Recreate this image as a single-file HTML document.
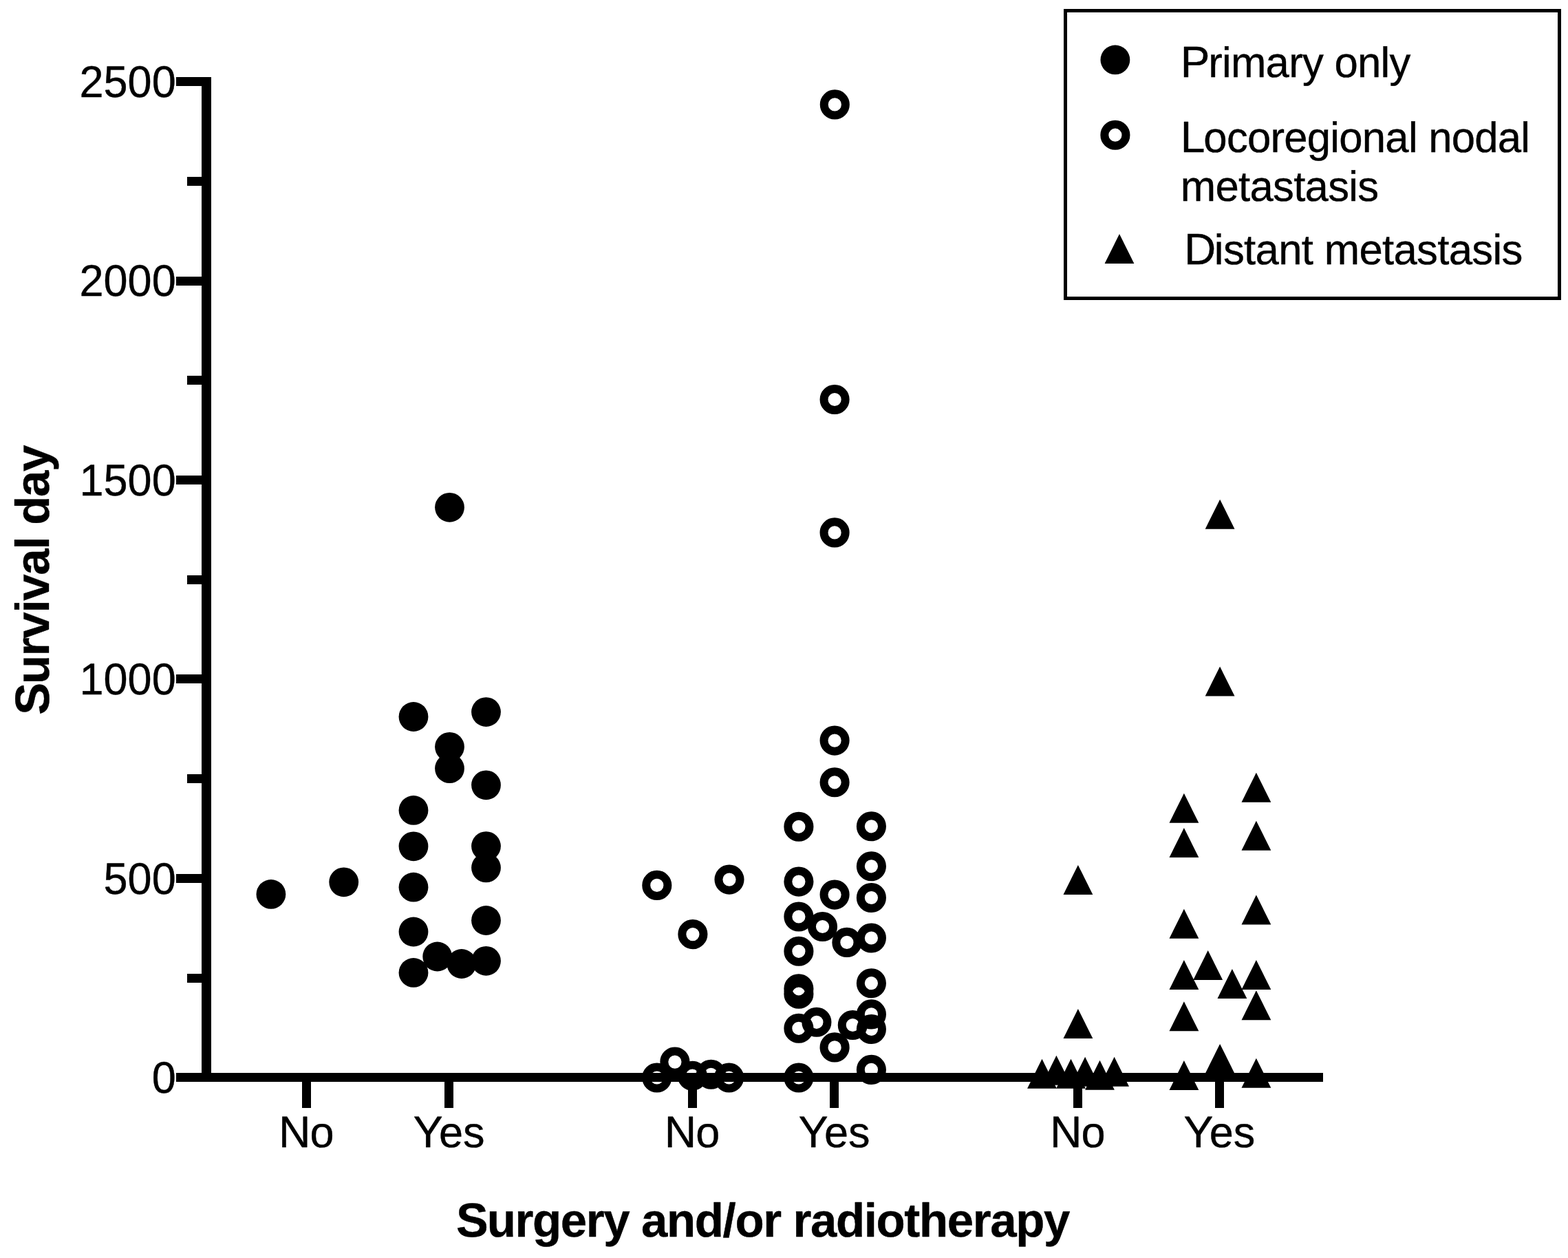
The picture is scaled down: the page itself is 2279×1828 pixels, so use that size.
<!DOCTYPE html>
<html lang="en">
<head>
<meta charset="utf-8">
<title>Survival day by surgery and/or radiotherapy</title>
<style>
html,body{margin:0;padding:0;background:#fff;}
body{width:2279px;height:1828px;overflow:hidden;}
svg{display:block;}
text{font-family:"Liberation Sans",sans-serif;fill:#000;font-kerning:none;font-variant-ligatures:none;white-space:pre;text-rendering:geometricPrecision;stroke:#000;stroke-width:0.4px;stroke-linejoin:round;}
.tk{font-size:63px;text-anchor:end;}
.xl{font-size:63px;text-anchor:middle;}
.lg{font-size:61.7px;}
.ttl{font-weight:bold;}
</style>
</head>
<body>
<svg width="2279" height="1828" viewBox="0 0 2279 1828">
<rect x="0" y="0" width="2279" height="1828" fill="#fff"/>
<g id="axes" fill="#000" shape-rendering="crispEdges">
<rect x="293" y="112" width="14" height="1460"/>
<rect x="256" y="1559" width="1667" height="13"/>
<rect x="272" y="1415" width="22" height="13"/>
<rect x="256" y="1270" width="38" height="13"/>
<rect x="272" y="1125" width="22" height="13"/>
<rect x="256" y="980" width="38" height="13"/>
<rect x="272" y="836" width="22" height="13"/>
<rect x="256" y="691" width="38" height="13"/>
<rect x="272" y="546" width="22" height="13"/>
<rect x="256" y="402" width="38" height="13"/>
<rect x="272" y="257" width="22" height="13"/>
<rect x="256" y="112" width="38" height="13"/>
<rect x="439" y="1571" width="13" height="39"/>
<rect x="646" y="1571" width="13" height="39"/>
<rect x="1000" y="1571" width="13" height="39"/>
<rect x="1206" y="1571" width="13" height="39"/>
<rect x="1560" y="1571" width="13" height="39"/>
<rect x="1766" y="1571" width="13" height="39"/>
</g>
<g id="ylabels" class="tk">
<text transform="translate(255.68 1588) scale(1 1.025)">0</text>
<text transform="translate(255.68 1299) scale(1 1.025)">500</text>
<text transform="translate(255.68 1009) scale(1 1.025)">1000</text>
<text transform="translate(255.68 720) scale(1 1.025)">1500</text>
<text transform="translate(255.68 430) scale(1 1.025)">2000</text>
<text transform="translate(255.68 141) scale(1 1.025)">2500</text>
</g>
<g id="xlabels" class="xl">
<text x="445.31" y="1667"><tspan font-size="64.3" letter-spacing="-0.94">N</tspan>o</text>
<text x="652.59" y="1667"><tspan font-size="64.3" letter-spacing="-5.65">Y</tspan>es</text>
<text x="1006.11" y="1667"><tspan font-size="64.3" letter-spacing="-0.94">N</tspan>o</text>
<text x="1212.69" y="1667"><tspan font-size="64.3" letter-spacing="-5.65">Y</tspan>es</text>
<text x="1566.21" y="1667"><tspan font-size="64.3" letter-spacing="-0.94">N</tspan>o</text>
<text x="1772.49" y="1667"><tspan font-size="64.3" letter-spacing="-5.65">Y</tspan>es</text>
</g>
<text id="xtitle" class="ttl" font-size="69" letter-spacing="-1.37" x="663.08" y="1796.6"><tspan font-size="70" letter-spacing="-2.04">S</tspan>urgery and/or radiotherapy</text>
<text id="ytitle" class="ttl" font-size="69" letter-spacing="-1.3" transform="translate(71 1038.8) rotate(-90)"><tspan font-size="70" letter-spacing="-1.97">S</tspan>urvival day</text>
<g id="primary" fill="#000">
<circle cx="393.9" cy="1299.4" r="21.4"/>
<circle cx="499.7" cy="1281.8" r="21.4"/>
<circle cx="601" cy="1041.5" r="21.4"/>
<circle cx="601" cy="1177.4" r="21.4"/>
<circle cx="601" cy="1229.8" r="21.4"/>
<circle cx="601" cy="1289.2" r="21.4"/>
<circle cx="601" cy="1354" r="21.4"/>
<circle cx="601" cy="1413.4" r="21.4"/>
<circle cx="653.5" cy="737.3" r="21.4"/>
<circle cx="653.5" cy="1085.3" r="21.4"/>
<circle cx="653.5" cy="1116.7" r="21.4"/>
<circle cx="706.5" cy="1034.6" r="21.4"/>
<circle cx="706.5" cy="1140.8" r="21.4"/>
<circle cx="706.5" cy="1229.6" r="21.4"/>
<circle cx="706.5" cy="1260.9" r="21.4"/>
<circle cx="706.5" cy="1337.5" r="21.4"/>
<circle cx="706.5" cy="1396.3" r="21.4"/>
<circle cx="635.7" cy="1390" r="21.4"/>
<circle cx="670.9" cy="1400.5" r="21.4"/>
</g>
<g id="nodal" fill="none" stroke="#000" stroke-width="11.95">
<circle cx="954.8" cy="1286.4" r="15.58"/>
<circle cx="1060" cy="1278.1" r="15.58"/>
<circle cx="1006.9" cy="1357.6" r="15.58"/>
<circle cx="954.8" cy="1566" r="15.58"/>
<circle cx="980.9" cy="1543.1" r="15.58"/>
<circle cx="1006.3" cy="1563.2" r="15.58"/>
<circle cx="1033.4" cy="1561.3" r="15.58"/>
<circle cx="1059.6" cy="1566" r="15.58"/>
<circle cx="1213.3" cy="151.9" r="15.58"/>
<circle cx="1213.1" cy="580.5" r="15.58"/>
<circle cx="1213.1" cy="773.9" r="15.58"/>
<circle cx="1213.1" cy="1076.1" r="15.58"/>
<circle cx="1213.1" cy="1136.8" r="15.58"/>
<circle cx="1160.9" cy="1201.3" r="15.58"/>
<circle cx="1266.4" cy="1200.8" r="15.58"/>
<circle cx="1266.4" cy="1258.8" r="15.58"/>
<circle cx="1160.9" cy="1281.1" r="15.58"/>
<circle cx="1213.1" cy="1300.1" r="15.58"/>
<circle cx="1266.4" cy="1304.5" r="15.58"/>
<circle cx="1160.9" cy="1332" r="15.58"/>
<circle cx="1195.5" cy="1346.5" r="15.58"/>
<circle cx="1230.9" cy="1369.4" r="15.58"/>
<circle cx="1266.4" cy="1363" r="15.58"/>
<circle cx="1160.9" cy="1382.3" r="15.58"/>
<circle cx="1266.4" cy="1428.7" r="15.58"/>
<circle cx="1160.9" cy="1436.8" r="15.58"/>
<circle cx="1160.9" cy="1444.2" r="15.58"/>
<circle cx="1266.4" cy="1473.9" r="15.58"/>
<circle cx="1266.4" cy="1495.5" r="15.58"/>
<circle cx="1186.9" cy="1485.3" r="15.58"/>
<circle cx="1239.3" cy="1489.5" r="15.58"/>
<circle cx="1160.9" cy="1494.3" r="15.58"/>
<circle cx="1213.1" cy="1521.9" r="15.58"/>
<circle cx="1266.4" cy="1554.4" r="15.58"/>
<circle cx="1160.9" cy="1566" r="15.58"/>
</g>
<g id="distant" fill="#000">
<polygon points="1566.9,1256.9 1588.3,1299.9 1545.5,1299.9"/>
<polygon points="1566.9,1466.1 1588.3,1509.1 1545.5,1509.1"/>
<polygon points="1514.5,1538.8 1535.9,1581.8 1493.1,1581.8"/>
<polygon points="1535.4,1533.8 1556.8,1576.8 1514,1576.8"/>
<polygon points="1556.5,1538.8 1577.9,1581.8 1535.1,1581.8"/>
<polygon points="1577.1,1535.8 1598.5,1578.8 1555.7,1578.8"/>
<polygon points="1598.5,1540.8 1619.9,1583.8 1577.1,1583.8"/>
<polygon points="1619.6,1535.8 1641,1578.8 1598.2,1578.8"/>
<polygon points="1773.1,725.7 1794.5,768.7 1751.7,768.7"/>
<polygon points="1773.1,968.6 1794.5,1011.6 1751.7,1011.6"/>
<polygon points="1720.9,1152.8 1742.3,1195.8 1699.5,1195.8"/>
<polygon points="1720.9,1203.1 1742.3,1246.1 1699.5,1246.1"/>
<polygon points="1720.9,1320.7 1742.3,1363.7 1699.5,1363.7"/>
<polygon points="1720.9,1394.9 1742.3,1437.9 1699.5,1437.9"/>
<polygon points="1720.9,1455.2 1742.3,1498.2 1699.5,1498.2"/>
<polygon points="1720.9,1541 1742.3,1584 1699.5,1584"/>
<polygon points="1825.9,1122.7 1847.3,1165.7 1804.5,1165.7"/>
<polygon points="1825.9,1192.7 1847.3,1235.7 1804.5,1235.7"/>
<polygon points="1825.9,1300.5 1847.3,1343.5 1804.5,1343.5"/>
<polygon points="1825.9,1394.9 1847.3,1437.9 1804.5,1437.9"/>
<polygon points="1825.9,1439.2 1847.3,1482.2 1804.5,1482.2"/>
<polygon points="1825.9,1537.7 1847.3,1580.7 1804.5,1580.7"/>
<polygon points="1755.7,1381 1777.1,1424 1734.3,1424"/>
<polygon points="1790.9,1407.9 1812.3,1450.9 1769.5,1450.9"/>
<polygon points="1773.1,1516.9 1794.5,1559.9 1751.7,1559.9"/>
</g>
<g id="legend">
<rect x="1548.5" y="15.5" width="718" height="418" fill="#fff" stroke="#000" stroke-width="5" shape-rendering="crispEdges"/>
<circle cx="1620.9" cy="86.9" r="21.4" fill="#000"/>
<circle cx="1620.9" cy="196.2" r="15.58" fill="none" stroke="#000" stroke-width="11.95"/>
<polygon points="1627,340 1648.4,383 1605.6,383" fill="#000"/>
<text class="lg" letter-spacing="-0.75" x="1715.81" y="112.1"><tspan font-size="64" letter-spacing="-2.28">P</tspan>rimary only</text>
<text class="lg" letter-spacing="-0.77" x="1715.81" y="221.2"><tspan font-size="64" letter-spacing="-2.04">L</tspan>ocoregional nodal</text>
<text class="lg" letter-spacing="-0.71" x="1715.75" y="291.8">metastasis</text>
<text class="lg" letter-spacing="-0.68" x="1720.98" y="384"><tspan font-size="64" letter-spacing="-2.34">D</tspan>istant metastasis</text>
</g>
</svg>
</body>
</html>
